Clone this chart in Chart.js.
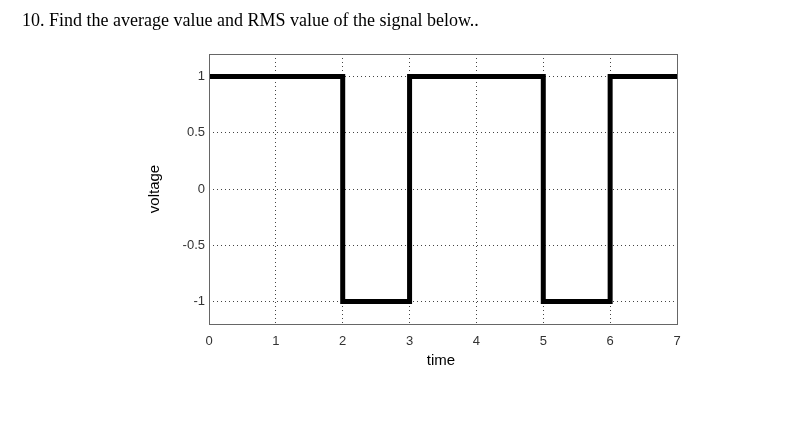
<!DOCTYPE html>
<html>
<head>
<meta charset="utf-8">
<script src="https://cdn.jsdelivr.net/npm/chart.js@4"></script>
<style>
  html, body { margin: 0; padding: 0; background: #fff; }
  #wrap { position: relative; width: 812px; height: 428px; }
  #title { position: absolute; left: 22px; top: 10px; font-family: "Liberation Serif", serif; font-size: 18px; color: #000; }
</style>
</head>
<body>
<div id="wrap">
  <div id="title">10. Find the average value and RMS value of the signal below..</div>
  <canvas id="c" width="812" height="428"></canvas>
</div>
<script>
// signal corners (time, voltage)
const times = [0, 2, 2, 3, 3, 5, 5, 6, 6, 7];
const volts = [1, 1, -1, -1, 1, 1, -1, -1, 1, 1];
const xTicks = [0, 1, 2, 3, 4, 5, 6, 7];
const yTicks = [-1, -0.5, 0, 0.5, 1];

// frame around the plot + axis titles near the axes
const frame = {
  id: 'frame',
  afterDraw(chart) {
    const a = chart.chartArea, ctx = chart.ctx;
    ctx.save();
    ctx.strokeStyle = '#666';
    ctx.lineWidth = 1;
    ctx.strokeRect(a.left + 0.5, a.top + 0.5, a.right - a.left, a.bottom - a.top);
    ctx.fillStyle = '#000';
    ctx.font = '15px "Liberation Sans"';
    ctx.textAlign = 'center';
    ctx.textBaseline = 'middle';
    ctx.fillText('time', (a.left + a.right) / 2 - 2, 361);
    ctx.translate(155, (a.top + a.bottom) / 2);
    ctx.rotate(-Math.PI / 2);
    ctx.fillText('voltage', 0, 0);
    ctx.restore();
  }
};

const font = { family: 'Liberation Sans', size: 13 };

new Chart(document.getElementById('c'), {
  type: 'line',
  data: {
    datasets: [{
      data: times.map((t, i) => ({ x: t, y: volts[i] })),
      borderColor: '#000',
      borderWidth: 5,
      pointRadius: 0,
      tension: 0,
      borderJoinStyle: 'miter',
      clip: false
    }]
  },
  options: {
    responsive: false,
    animation: false,
    layout: { padding: { top: 54, right: 135, left: 0, bottom: 0 } },
    plugins: { legend: { display: false }, tooltip: { enabled: false } },
    scales: {
      x: {
        type: 'linear', min: 0, max: 7,
        afterBuildTicks: s => { s.ticks = xTicks.map(v => ({ value: v })); },
        afterFit: s => { s.height = 104; },
        grid: { color: '#444', drawTicks: false },
        border: { display: false, dash: [1, 3] },
        ticks: { color: '#333', font, padding: 10, callback: v => String(v) }
      },
      y: {
        min: -1.2, max: 1.2,
        afterBuildTicks: s => { s.ticks = yTicks.map(v => ({ value: v })); },
        afterFit: s => { s.width = 209; },
        grid: { color: '#444', drawTicks: false },
        border: { display: false, dash: [1, 3] },
        ticks: { color: '#333', font, padding: 4, callback: v => String(v) }
      }
    }
  },
  plugins: [frame]
});
</script>
</body>
</html>
